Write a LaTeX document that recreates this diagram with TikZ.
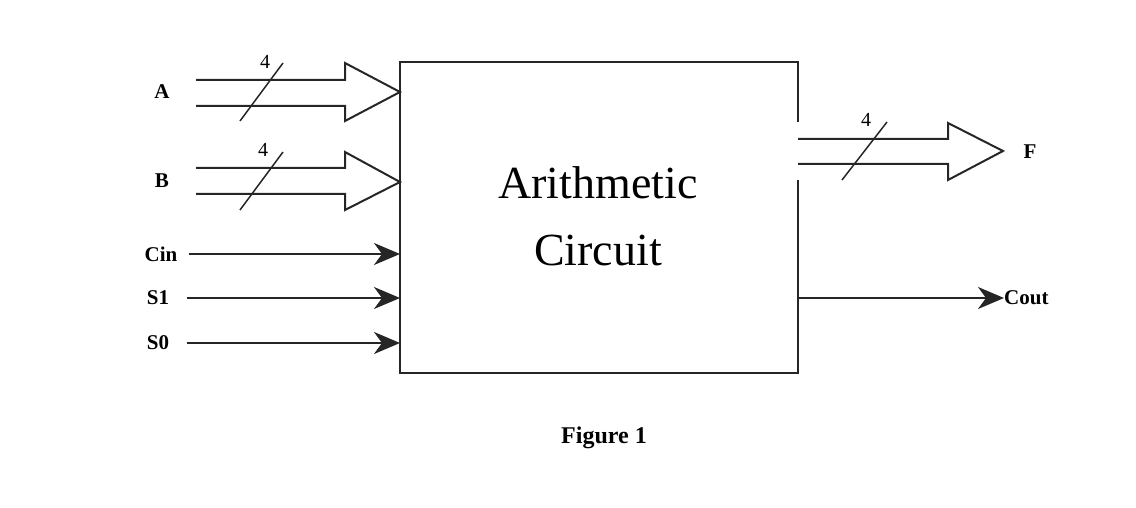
\documentclass[tikz,border=0pt]{standalone}
\usepackage{fontspec}
\setmainfont{Liberation Serif}
\usetikzlibrary{arrows.meta}
\begin{document}
\begin{tikzpicture}[x=1pt,y=-1pt,
  ln/.style={line width=2pt,black!85},
  sig/.style={ln,-{Stealth[length=26pt,width=22pt,inset=8pt]}},
  lab/.style={font=\bfseries\fontsize{21}{21}\selectfont},
  num/.style={font=\fontsize{20}{20}\selectfont,inner sep=0pt}]
\useasboundingbox (0,0) rectangle (1136,508);
% box
\coordinate (b1) at (798,122);
\coordinate (b2) at (798,180);
\draw[ln] (b1) -- (798,62) -- (400,62) -- (400,373) -- (798,373) -- (b2);
\node (box) at (599,217) {};
\node[font=\fontsize{46}{46}\selectfont] (t1) at (598,183) {Arithmetic};
\node[font=\fontsize{46}{46}\selectfont] (t2) at (598,250) {Circuit};
% bus arrows
\draw[ln] (196,80) -- (345,80) -- (345,63) -- (400,92) -- (345,121) -- (345,106) -- (196,106);
\draw[ln] (196,168) -- (345,168) -- (345,152) -- (400,182) -- (345,210) -- (345,194) -- (196,194);
\draw[ln] (798,139) -- (948,139) -- (948,123) -- (1003,151) -- (948,180) -- (948,164) -- (798,164);
\draw[ln,line width=1.5pt] (240,121) -- (283,63);
\draw[ln,line width=1.5pt] (240,210) -- (283,152);
\draw[ln,line width=1.5pt] (842,180) -- (887,122);
\node[num] (n1) at (265,62) {4};
\node[num] (n2) at (263,150) {4};
\node[num] (n3) at (866,120) {4};
\node[lab] (A) at (162,92) {A};
\node[lab] (B) at (162,181) {B};
\node[lab] (F) at (1030,152) {F};
% single signals
\node[lab] (cin) at (161,254) {Cin};
\node[lab] (s1) at (158,298) {S1};
\node[lab] (s0) at (158,343) {S0};
\coordinate (cinE) at (400,254);
\coordinate (s1E) at (400,298);
\coordinate (s0E) at (400,343);
\draw[sig] (cin.east) ++(8,0) -- (cinE);
\draw[sig] (s1.east) ++(14,0) -- (s1E);
\draw[sig] (s0.east) ++(14,0) -- (s0E);
\node[lab,anchor=west,inner sep=0pt] (cout) at (1004,298) {Cout};
\coordinate (coutS) at (798,298);
\draw[sig] (coutS) -- (cout.west);
\node[lab,font=\bfseries\fontsize{24}{24}\selectfont] (fig) at (604,438) {Figure 1};
\end{tikzpicture}
\end{document}
